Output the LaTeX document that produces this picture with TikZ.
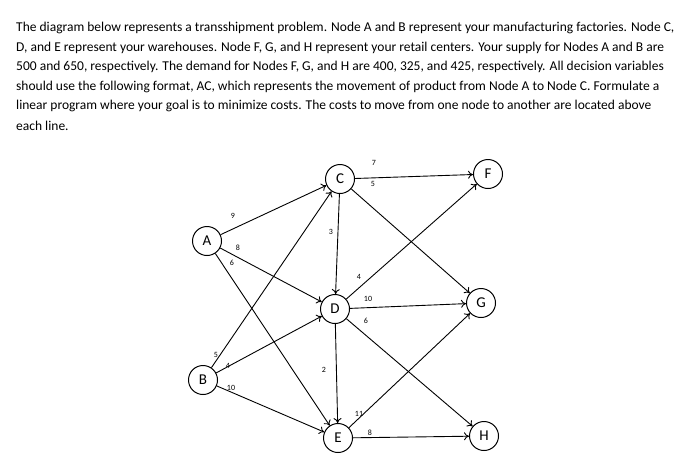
\documentclass[tikz,border=0pt]{standalone}
\usepackage{fontspec}
\setmainfont{Carlito}
\usetikzlibrary{arrows.meta}
\begin{document}
\begin{tikzpicture}[x=1pt,y=-1pt,
  nd/.style={circle,draw,line width=1pt,minimum size=29pt,inner sep=0pt,font=\fontsize{15}{15}\selectfont},
  ar/.style={line width=0.9pt,-{To[length=5pt,width=8pt]}},
  lb/.style={font=\fontsize{8}{8}\selectfont,inner sep=0pt},
  tx/.style={anchor=west,inner sep=0pt,font=\fontsize{13.5}{14}\selectfont}]
\useasboundingbox (0,0) rectangle (700,472);
\node[tx] (t1) at (16,28) {The diagram below represents a transshipment problem. Node A and B represent your manufacturing factories. Node C,};
\node[tx] (t2) at (16,47.5) {D, and E represent your warehouses. Node F, G, and H represent your retail centers. Your supply for Nodes A and B are};
\node[tx] (t3) at (16,67) {500 and 650, respectively. The demand for Nodes F, G, and H are 400, 325, and 425, respectively. All decision variables};
\node[tx] (t4) at (16,86.5) {should use the following format, AC, which represents the movement of product from Node A to Node C. Formulate a};
\node[tx] (t5) at (16,106) {linear program where your goal is to minimize costs. The costs to move from one node to another are located above};
\node[tx] (t6) at (16,125.5) {each line.};

\node[nd] (C) at (340,179) {C};
\node[nd] (F) at (488,174) {F};
\node[nd] (A) at (207,241) {A};
\node[nd] (D) at (335,309) {D};
\node[nd] (G) at (481,303) {G};
\node[nd] (B) at (203,380) {B};
\node[nd] (E) at (338,438) {E};
\node[nd] (H) at (484,436) {H};

\draw[ar] (A) -- (C); \draw[ar] (A) -- (D); \draw[ar] (A) -- (E);
\draw[ar] (B) -- (C); \draw[ar] (B) -- (D); \draw[ar] (B) -- (E);
\draw[ar] (C) -- (F); \draw[ar] (C) -- (G); \draw[ar] (C) -- (D);
\draw[ar] (D) -- (F); \draw[ar] (D) -- (G); \draw[ar] (D) -- (H); \draw[ar] (D) -- (E);
\draw[ar] (E) -- (G); \draw[ar] (E) -- (H);

\node[lb] (l1) at (233,216) {9};
\node[lb] (l2) at (238,248) {8};
\node[lb] (l3) at (232,263) {6};
\node[lb] (l4) at (216,355) {5};
\node[lb] (l5) at (228,366) {4};
\node[lb] (l6) at (231,388) {10};
\node[lb] (l7) at (374,163) {7};
\node[lb] (l8) at (373,184) {5};
\node[lb] (l9) at (331,232) {3};
\node[lb] (l10) at (359,277) {4};
\node[lb] (l11) at (368,299) {10};
\node[lb] (l12) at (366,321) {6};
\node[lb] (l13) at (324,370) {2};
\node[lb] (l14) at (359,414) {11};
\node[lb] (l15) at (370,433) {8};
\end{tikzpicture}
\end{document}
